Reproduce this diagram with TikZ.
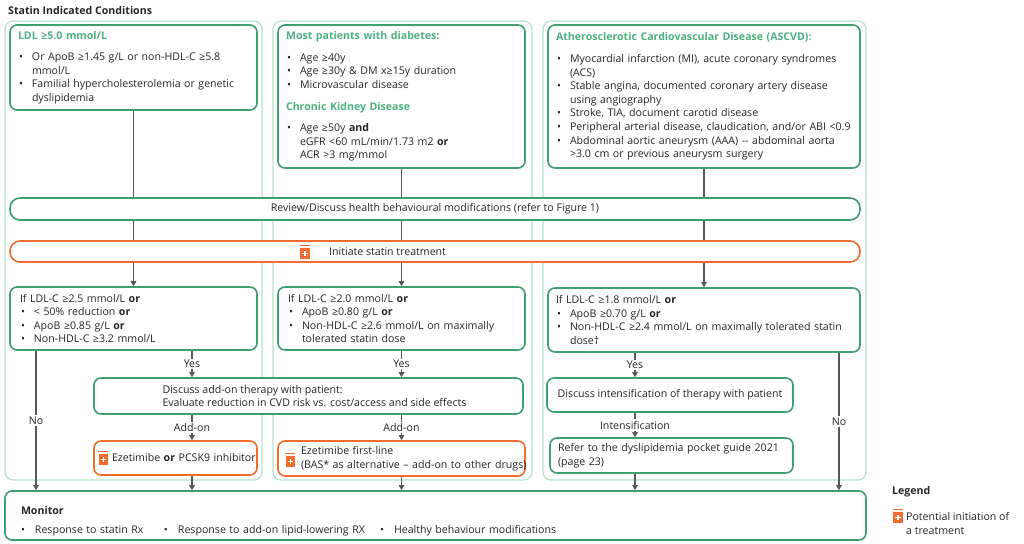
\documentclass[tikz,border=0pt]{standalone}
\usepackage{fontspec}
\setmainfont{Open Sans}
\usetikzlibrary{arrows.meta,positioning}
\definecolor{boxgreen}{RGB}{62,160,112}
\definecolor{headgreen}{RGB}{76,178,125}
\definecolor{panelgreen}{RGB}{181,226,201}
\definecolor{rxorange}{RGB}{242,108,48}
\definecolor{linegray}{RGB}{88,88,88}
\definecolor{textgray}{RGB}{38,38,38}
\newcommand{\bodyfont}{\fontsize{10.6pt}{13.6pt}\selectfont}
\newcommand{\itm}[1]{\par\hangindent=14pt\hangafter=1\noindent\hbox to 14pt{\hspace{1pt}\textbullet\hfil}#1\par}
\newcommand{\head}[1]{\textcolor{headgreen}{\textbf{#1}}\par\vspace{8pt}}
\newcommand{\mon}[2]{\hbox to #1{\hbox to 14pt{\textbullet\hfil}#2\hfil}}
\tikzset{
	panel/.style={draw=panelgreen, line width=1.2pt, rounded corners=8pt},
	gbox/.style={draw=boxgreen, line width=1.6pt, rounded corners=7pt, fill=white, align=left, inner ysep=2pt},
	obox/.style={draw=rxorange, line width=1.6pt, rounded corners=7pt, fill=white, align=left, inner ysep=2pt},
	bar/.style={line width=1.6pt, rounded corners=10pt, fill=white, minimum width=850pt, inner sep=0pt},
	conn/.style={draw=linegray, line width=1.2pt},
	arr/.style={conn, -{Triangle[length=5pt,width=5.5pt]}},
	lab/.style={fill=white, inner sep=1.5pt},
	pill/.pic={
		\fill[rxorange] (-5,-7) rectangle (5,-5.6);
		\fill[rxorange] (-4.6,-4.4) rectangle (4.6,7);
		\draw[white, line width=1.3pt] (-2.6,1.3) -- (2.6,1.3) (0,-1.3) -- (0,3.9);
	}
}
\begin{document}
\begin{tikzpicture}[x=1pt, y=-1pt, every node/.append style={font=\bodyfont, text=textgray}]
	\useasboundingbox (0,0) rectangle (1024,543);
	\node[anchor=west, inner sep=0pt] (title) at (8,11) {\textbf{Statin Indicated Conditions}};
	% panels
	\draw[panel] (5,21) rectangle (262,480);
	\draw[panel] (273,21) rectangle (532,480);
	\draw[panel] (543,21) rectangle (866,480);
	% conditions
	\node[gbox, text width=231pt, inner xsep=8pt, minimum height=85pt] (ldl) at (133.5,67.5) {\head{LDL ≥5.0 mmol/L}
		\itm{Or ApoB ≥1.45 g/L or non-HDL-C ≥5.8\newline mmol/L}
		\itm{Familial hypercholesterolemia or genetic\newline dyslipidemia}};
	\node[gbox, text width=231pt, inner xsep=8pt, minimum height=143pt] (ckd) at (401.5,96.5) {\head{Most patients with diabetes:}
		\itm{Age ≥40y}
		\itm{Age ≥30y \& DM x≥15y duration}
		\itm{Microvascular disease}
		\vspace{8pt}\head{Chronic Kidney Disease}
		\itm{Age ≥50y \textbf{and}\newline eGFR <60 mL/min/1.73 m2 \textbf{or}\newline ACR >3 mg/mmol}};
	\node[gbox, text width=296pt, inner xsep=8pt, minimum height=143pt] (ascvd) at (704,96.5) {\head{Atherosclerotic Cardiovascular Disease (ASCVD):}
		\itm{Myocardial infarction (MI), acute coronary syndromes\newline (ACS)}
		\itm{Stable angina, documented coronary artery disease\newline using angiography}
		\itm{Stroke, TIA, document carotid disease}
		\itm{Peripheral arterial disease, claudication, and/or ABI <0.9}
		\itm{Abdominal aortic aneurysm (AAA) -{}- abdominal aorta\newline >3.0 cm or previous aneurysm surgery}};
	% common steps
	\node[bar, draw=boxgreen, minimum height=22pt] (review) at (435,209) {Review/Discuss health behavioural modifications (refer to Figure 1)};
	\node[bar, draw=rxorange, minimum height=21pt] (init) at (435,251.5) {};
	\node[anchor=west, inner sep=0pt] (inittxt) at (329,252) {Initiate statin treatment};
	\pic at (305,252) {pill};
	% targets
	\node[gbox, text width=227pt, inner xsep=10pt, minimum height=63pt] (critA) at (133.5,318.5) {If LDL-C ≥2.5 mmol/L \textbf{or}
		\itm{< 50\% reduction \textbf{or}}
		\itm{ApoB ≥0.85 g/L \textbf{or}}
		\itm{Non-HDL-C ≥3.2 mmol/L}};
	\node[gbox, text width=227pt, inner xsep=10pt, minimum height=63pt] (critB) at (401.5,318.5) {If LDL-C ≥2.0 mmol/L \textbf{or}
		\itm{ApoB ≥0.80 g/L \textbf{or}}
		\itm{Non-HDL-C ≥2.6 mmol/L on maximally\newline tolerated statin dose}};
	\node[gbox, text width=296pt, inner xsep=8pt, minimum height=64pt] (critC) at (704,320) {If LDL-C ≥1.8 mmol/L \textbf{or}
		\itm{ApoB ≥0.70 g/L \textbf{or}}
		\itm{Non-HDL-C ≥2.4 mmol/L on maximally tolerated statin\newline dose†}};
	% add-on
	\node[gbox, minimum width=429pt, minimum height=36pt] (addon) at (308.5,396) {\hspace*{12pt}Discuss add-on therapy with patient:\\\hspace*{12pt}Evaluate reduction in CVD risk vs. cost/access and side effects};
	\node[gbox, minimum width=246pt, minimum height=34pt] (intens) at (670,395) {Discuss intensification of therapy with patient};
	\node[gbox, text width=227pt, inner xsep=8pt, minimum height=35pt] (refer) at (671.5,455.5) {Refer to the dyslipidemia pocket guide 2021\newline (page 23)};
	\node[obox, text width=159pt, inner xsep=2pt, minimum height=34pt] (ezA) at (175.5,458) {\hspace*{16pt}\mbox{Ezetimibe \textbf{or} PCSK9 inhibitor}};
	\node[obox, text width=243pt, inner xsep=2pt, minimum height=35pt] (ezB) at (401.5,458.5) {\hspace*{21pt}\mbox{Ezetimibe first-line}\newline\hspace*{21pt}\mbox{(BAS* as alternative – add-on to other drugs)}};
	\pic at ([xshift=10pt]ezA.west) {pill};
	\pic at ([xshift=13pt, yshift=-1.5pt]ezB.west) {pill};
	% monitor
	\node[gbox, text width=829pt, inner xsep=16pt, minimum height=49pt] (monitor) at (435.5,515.5) {\textbf{Monitor}\rule{0pt}{19pt}\par\vspace{5pt}
		\noindent\mon{143pt}{Response to statin Rx}\mon{216pt}{Response to add-on lipid-lowering RX}\mon{200pt}{Healthy behaviour modifications}};
	% legend
	\node[anchor=west, inner sep=0pt] (legend) at (892,492) {\textbf{Legend}};
	\pic at (898,516) {pill};
	\node[anchor=west, align=left, inner sep=0pt] (legtxt) at (906,523.5) {Potential initiation of\\a treatment};
	% connectors
	\coordinate (colA) at (192,0);
	\coordinate (colNo) at (36,0);
	\coordinate (colC) at (635,0);
	\coordinate (colNoR) at (839,0);
	\foreach \c/\d in {ldl/critA, ckd/critB, ascvd/critC}{
		\draw[conn] (\c.south) -- (\c.south |- review.north);
		\draw[conn] (\c.south |- review.south) -- (\c.south |- init.north);
		\draw[arr] (\c.south |- init.south) -- (\d.north);
	}
	\draw[arr] (critA.south -| colA) -- node[lab] {Yes} (addon.north -| colA);
	\draw[arr] (critB.south) -- node[lab] {Yes} (critB.south |- addon.north);
	\draw[arr] (addon.south -| colA) -- node[lab] {Add-on} (ezA.north -| colA);
	\draw[arr] (addon.south -| ezB.north) -- node[lab] {Add-on} (ezB.north);
	\draw[arr] (ezA.south -| colA) -- (monitor.north -| colA);
	\draw[arr] (ezB.south) -- (ezB.south |- monitor.north);
	\draw[arr] (critA.south -| colNo) -- node[lab] {No} (monitor.north -| colNo);
	\draw[arr] (critC.south -| colC) -- node[lab] {Yes} (intens.north -| colC);
	\draw[arr] (intens.south -| colC) -- node[lab] {Intensification} (refer.north -| colC);
	\draw[arr] (refer.south -| colC) -- (monitor.north -| colC);
	\draw[arr] (critC.south -| colNoR) -- node[lab] {No} (monitor.north -| colNoR);
\end{tikzpicture}
\end{document}
